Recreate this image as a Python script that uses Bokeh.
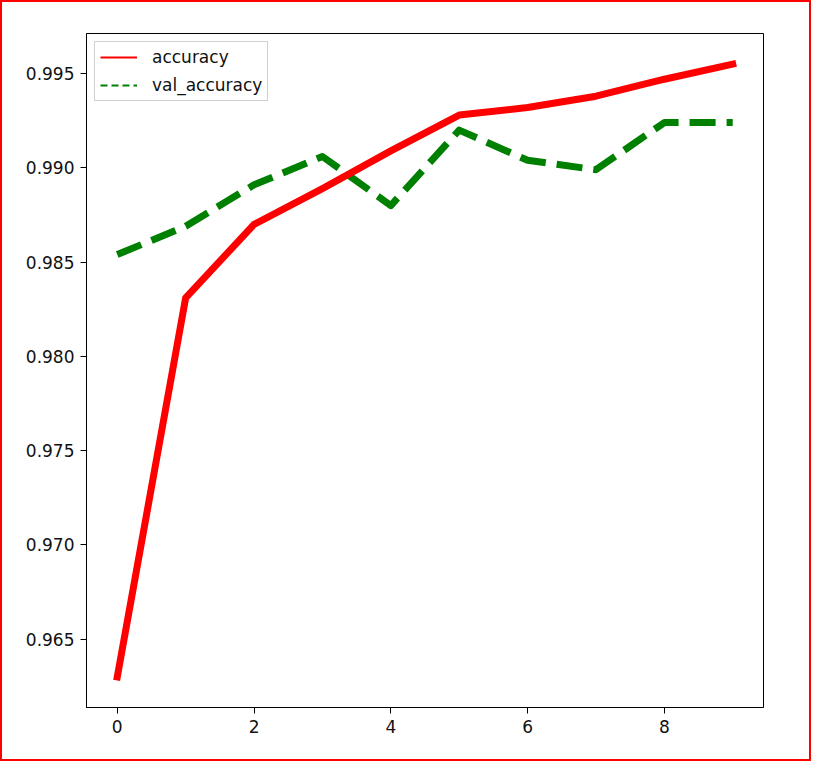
from bokeh.plotting import figure
from bokeh.models import ColumnDataSource, FixedTicker, NumeralTickFormatter, Range1d, Legend, LegendItem
from bokeh.embed import file_html
from bokeh.resources import INLINE

epochs = [0, 1, 2, 3, 4, 5, 6, 7, 8, 9]
accuracy = [0.9630, 0.9831, 0.9870, 0.9889, 0.9909, 0.9928, 0.9932, 0.9938, 0.9947, 0.9955]
val_accuracy = [0.9854, 0.9869, 0.9891, 0.9906, 0.9880, 0.9920, 0.9904, 0.9899, 0.9924, 0.9924]
x_ticks = [0, 2, 4, 6, 8]
y_ticks = [0.965, 0.970, 0.975, 0.980, 0.985, 0.990, 0.995]

FONT = "DejaVu Sans"

src = ColumnDataSource(dict(x=epochs, acc=accuracy, val=val_accuracy))
nan_src = ColumnDataSource(dict(x=[float("nan")], y=[float("nan")]))

lo = min(min(accuracy), min(val_accuracy))
hi = max(max(accuracy), max(val_accuracy))
pad = (hi - lo) * 0.05
xpad = (max(epochs) - min(epochs)) * 0.05

p = figure(width=811, height=761, output_backend="svg", toolbar_location=None,
           x_range=Range1d(min(epochs) - xpad, max(epochs) + xpad),
           y_range=Range1d(lo - pad, hi + pad),
           min_border_left=84, min_border_top=31, min_border_right=50, min_border_bottom=56)
p.styles = {"border": "2px solid red"}

p.grid.visible = False
p.outline_line_color = "black"
p.outline_line_width = 1
p.background_fill_color = "white"
p.border_fill_color = "white"

for ax in (p.xaxis[0], p.yaxis[0]):
    ax.axis_line_color = "black"
    ax.major_tick_line_color = "black"
    ax.major_tick_out = 6
    ax.major_tick_in = 0
    ax.minor_tick_line_color = None
    ax.major_label_text_font = FONT
    ax.major_label_text_font_size = "17px"
    ax.major_label_text_color = "#111111"
    ax.major_label_standoff = 6

p.xaxis[0].ticker = FixedTicker(ticks=x_ticks)
p.yaxis[0].ticker = FixedTicker(ticks=y_ticks)
p.yaxis[0].formatter = NumeralTickFormatter(format="0.000")

p.line("x", "val", source=src, line_color="green", line_width=7,
       line_dash="26 11", line_join="round", line_cap="butt")
p.line("x", "acc", source=src, line_color="red", line_width=7,
       line_join="round", line_cap="square")

# thin renderers (no visible data) used only for the legend glyphs
leg_acc = p.line("x", "y", source=nan_src, line_color="red", line_width=2)
leg_val = p.line("x", "y", source=nan_src, line_color="green", line_width=2, line_dash="7 4")

legend = Legend(items=[LegendItem(label="accuracy", renderers=[leg_acc]),
                       LegendItem(label="val_accuracy", renderers=[leg_val])],
                location="top_left", margin=8, padding=5, spacing=8,
                glyph_width=37, glyph_height=20, label_height=20, label_standoff=15,
                label_text_font=FONT, label_text_font_size="17px", label_text_color="#111111",
                border_line_color="#cccccc", border_line_alpha=0.9,
                background_fill_color="white", background_fill_alpha=0.8)
p.add_layout(legend, "center")

open("out.html", "w").write(file_html(p, INLINE))
